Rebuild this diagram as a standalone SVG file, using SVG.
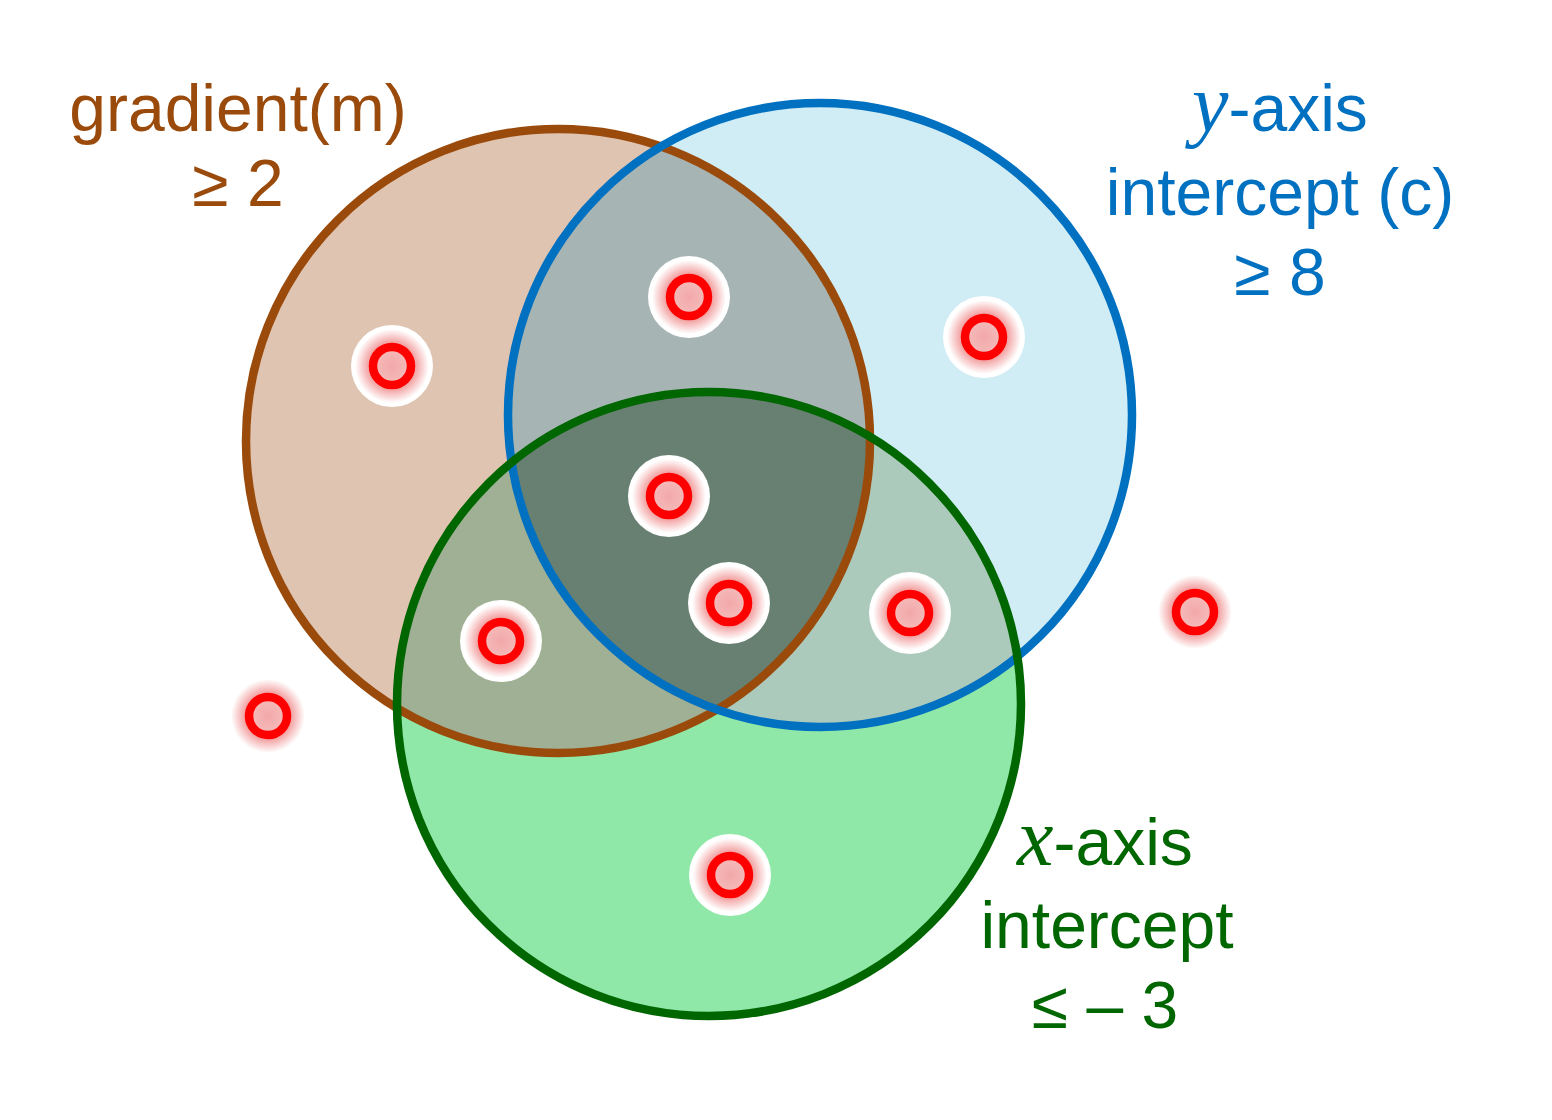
<svg xmlns="http://www.w3.org/2000/svg" width="1552" height="1120" viewBox="0 0 1552 1120">
<style>
.lbl{font-family:"Liberation Sans",Arial,sans-serif;font-size:66px;text-anchor:middle}
.it{font-family:"Liberation Serif","Times New Roman",serif;font-style:italic;font-size:82px}
.ring{fill:url(#core);stroke:#ff0000;stroke-width:8.5}
.halo{fill:url(#halo)}
.edge{fill:none;stroke-width:8.5}
</style>
<defs>
<radialGradient id="halo" cx="0.5" cy="0.5" r="0.5">
<stop offset="0" stop-color="#f08c8c"/>
<stop offset="0.55" stop-color="#f29c9c"/>
<stop offset="0.9" stop-color="#ffffff"/>
<stop offset="1" stop-color="#ffffff"/>
</radialGradient>
<radialGradient id="core" cx="0.5" cy="0.5" r="0.5">
<stop offset="0" stop-color="#f2a8a8"/>
<stop offset="1" stop-color="#f6bcbc"/>
</radialGradient>
<clipPath id="cBrown"><circle cx="558" cy="441" r="312"/></clipPath>
<clipPath id="cBlue"><circle cx="820" cy="415" r="312"/></clipPath>
<clipPath id="cGreen"><circle cx="709" cy="704" r="312"/></clipPath>
<g id="dot"><circle class="halo" r="41"/><circle class="ring" r="19"/></g>
</defs>
<rect width="1552" height="1120" fill="#ffffff"/>
<g id="fills">
<circle cx="558" cy="441" r="312" fill="#dfc4b2"/>
<circle cx="820" cy="415" r="312" fill="#d0ecf4"/>
<circle cx="709" cy="704" r="312" fill="#90e8a8"/>
<g clip-path="url(#cBrown)"><circle cx="820" cy="415" r="312" fill="#a6b4b4"/><circle cx="709" cy="704" r="312" fill="#a0b094"/></g>
<g clip-path="url(#cBlue)"><circle cx="709" cy="704" r="312" fill="#accabc"/></g>
<g clip-path="url(#cBrown)"><g clip-path="url(#cBlue)"><circle cx="709" cy="704" r="312" fill="#688072"/></g></g>
</g>
<g id="set-gradient"><circle class="edge" cx="558" cy="441" r="312" stroke="#9a4a0a"/></g>
<g id="set-yintercept"><circle class="edge" cx="820" cy="415" r="312" stroke="#0070c0"/></g>
<g id="set-xintercept"><circle class="edge" cx="709" cy="704" r="312" stroke="#006600"/></g>
<g id="dots">
<use href="#dot" x="392" y="366"/>
<use href="#dot" x="689" y="297"/>
<use href="#dot" x="984" y="337"/>
<use href="#dot" x="669" y="496"/>
<use href="#dot" x="729" y="603"/>
<use href="#dot" x="910" y="613"/>
<use href="#dot" x="501" y="641"/>
<use href="#dot" x="1195" y="612"/>
<use href="#dot" x="268" y="716"/>
<use href="#dot" x="730" y="875"/>
</g>
<g id="label-gradient" fill="#9a4a0a">
<text class="lbl" x="238" y="131">gradient(m)</text>
<text class="lbl" x="238" y="206">≥ 2</text>
</g>
<g id="label-y" fill="#0070c0">
<text class="lbl" x="1280" y="131"><tspan class="it">y</tspan>-axis</text>
<text class="lbl" x="1280" y="215">intercept (c)</text>
<text class="lbl" x="1280" y="295">≥ 8</text>
</g>
<g id="label-x" fill="#006600">
<text class="lbl" x="1105" y="865"><tspan class="it">x</tspan>-axis</text>
<text class="lbl" x="1107" y="948">intercept</text>
<text class="lbl" x="1105" y="1028">≤ – 3</text>
</g>
</svg>
